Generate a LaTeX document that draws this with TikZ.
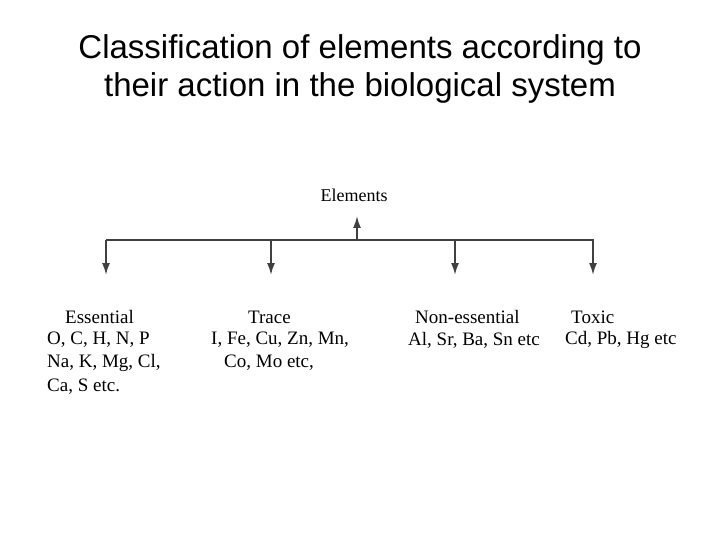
\documentclass[tikz,border=0pt]{standalone}
\usepackage{fontspec}
\usetikzlibrary{arrows.meta}
\setmainfont{Liberation Serif}
\newfontfamily\titlefont{Liberation Sans}
\begin{document}
\begin{tikzpicture}[x=1pt,y=-1pt,
  lbl/.style={anchor=west,inner sep=0pt,font=\fontsize{19}{19}\selectfont},
  arr/.style={-{Latex[length=12pt,width=8pt]},line width=1.8pt,black!75}]
\useasboundingbox (0,0) rectangle (720,540);
\node[font=\titlefont\fontsize{33}{38}\selectfont,align=center] (title) at (360,69) {Classification of elements according to\\their action in the biological system};
\node[lbl,anchor=center,font=\fontsize{18}{18}\selectfont] (el) at (354,195) {Elements};
\coordinate (L) at (106,240); \coordinate (R) at (594,240); \coordinate (M) at (357,240);
\draw[line width=2pt,black!75] (L) -- (R);
\draw[arr] (M) -- (357,216);
\foreach \x/\n in {106/a,271/b,455/c,593/d}{
  \coordinate (s\n) at (\x,240); \coordinate (e\n) at (\x,275);
  \draw[arr] (s\n) -- (e\n);}
\node[lbl] (ess) at (65,317) {Essential};
\node[lbl] (ess1) at (47,340) {O, C, H, N, P};
\node[lbl] (ess2) at (47,363) {Na, K, Mg, Cl,};
\node[lbl] (ess3) at (47,387) {Ca, S etc.};
\node[lbl] (tr) at (248,317) {Trace};
\node[lbl] (tr1) at (211,340) {I, Fe, Cu, Zn, Mn,};
\node[lbl] (tr2) at (224,363) {Co, Mo etc,};
\node[lbl] (ne) at (415,317) {Non-essential};
\node[lbl] (ne1) at (408,340) {Al, Sr, Ba, Sn etc};
\node[lbl] (tx) at (571,317) {Toxic};
\node[lbl] (tx1) at (565,340) {Cd, Pb, Hg etc};
\end{tikzpicture}
\end{document}
